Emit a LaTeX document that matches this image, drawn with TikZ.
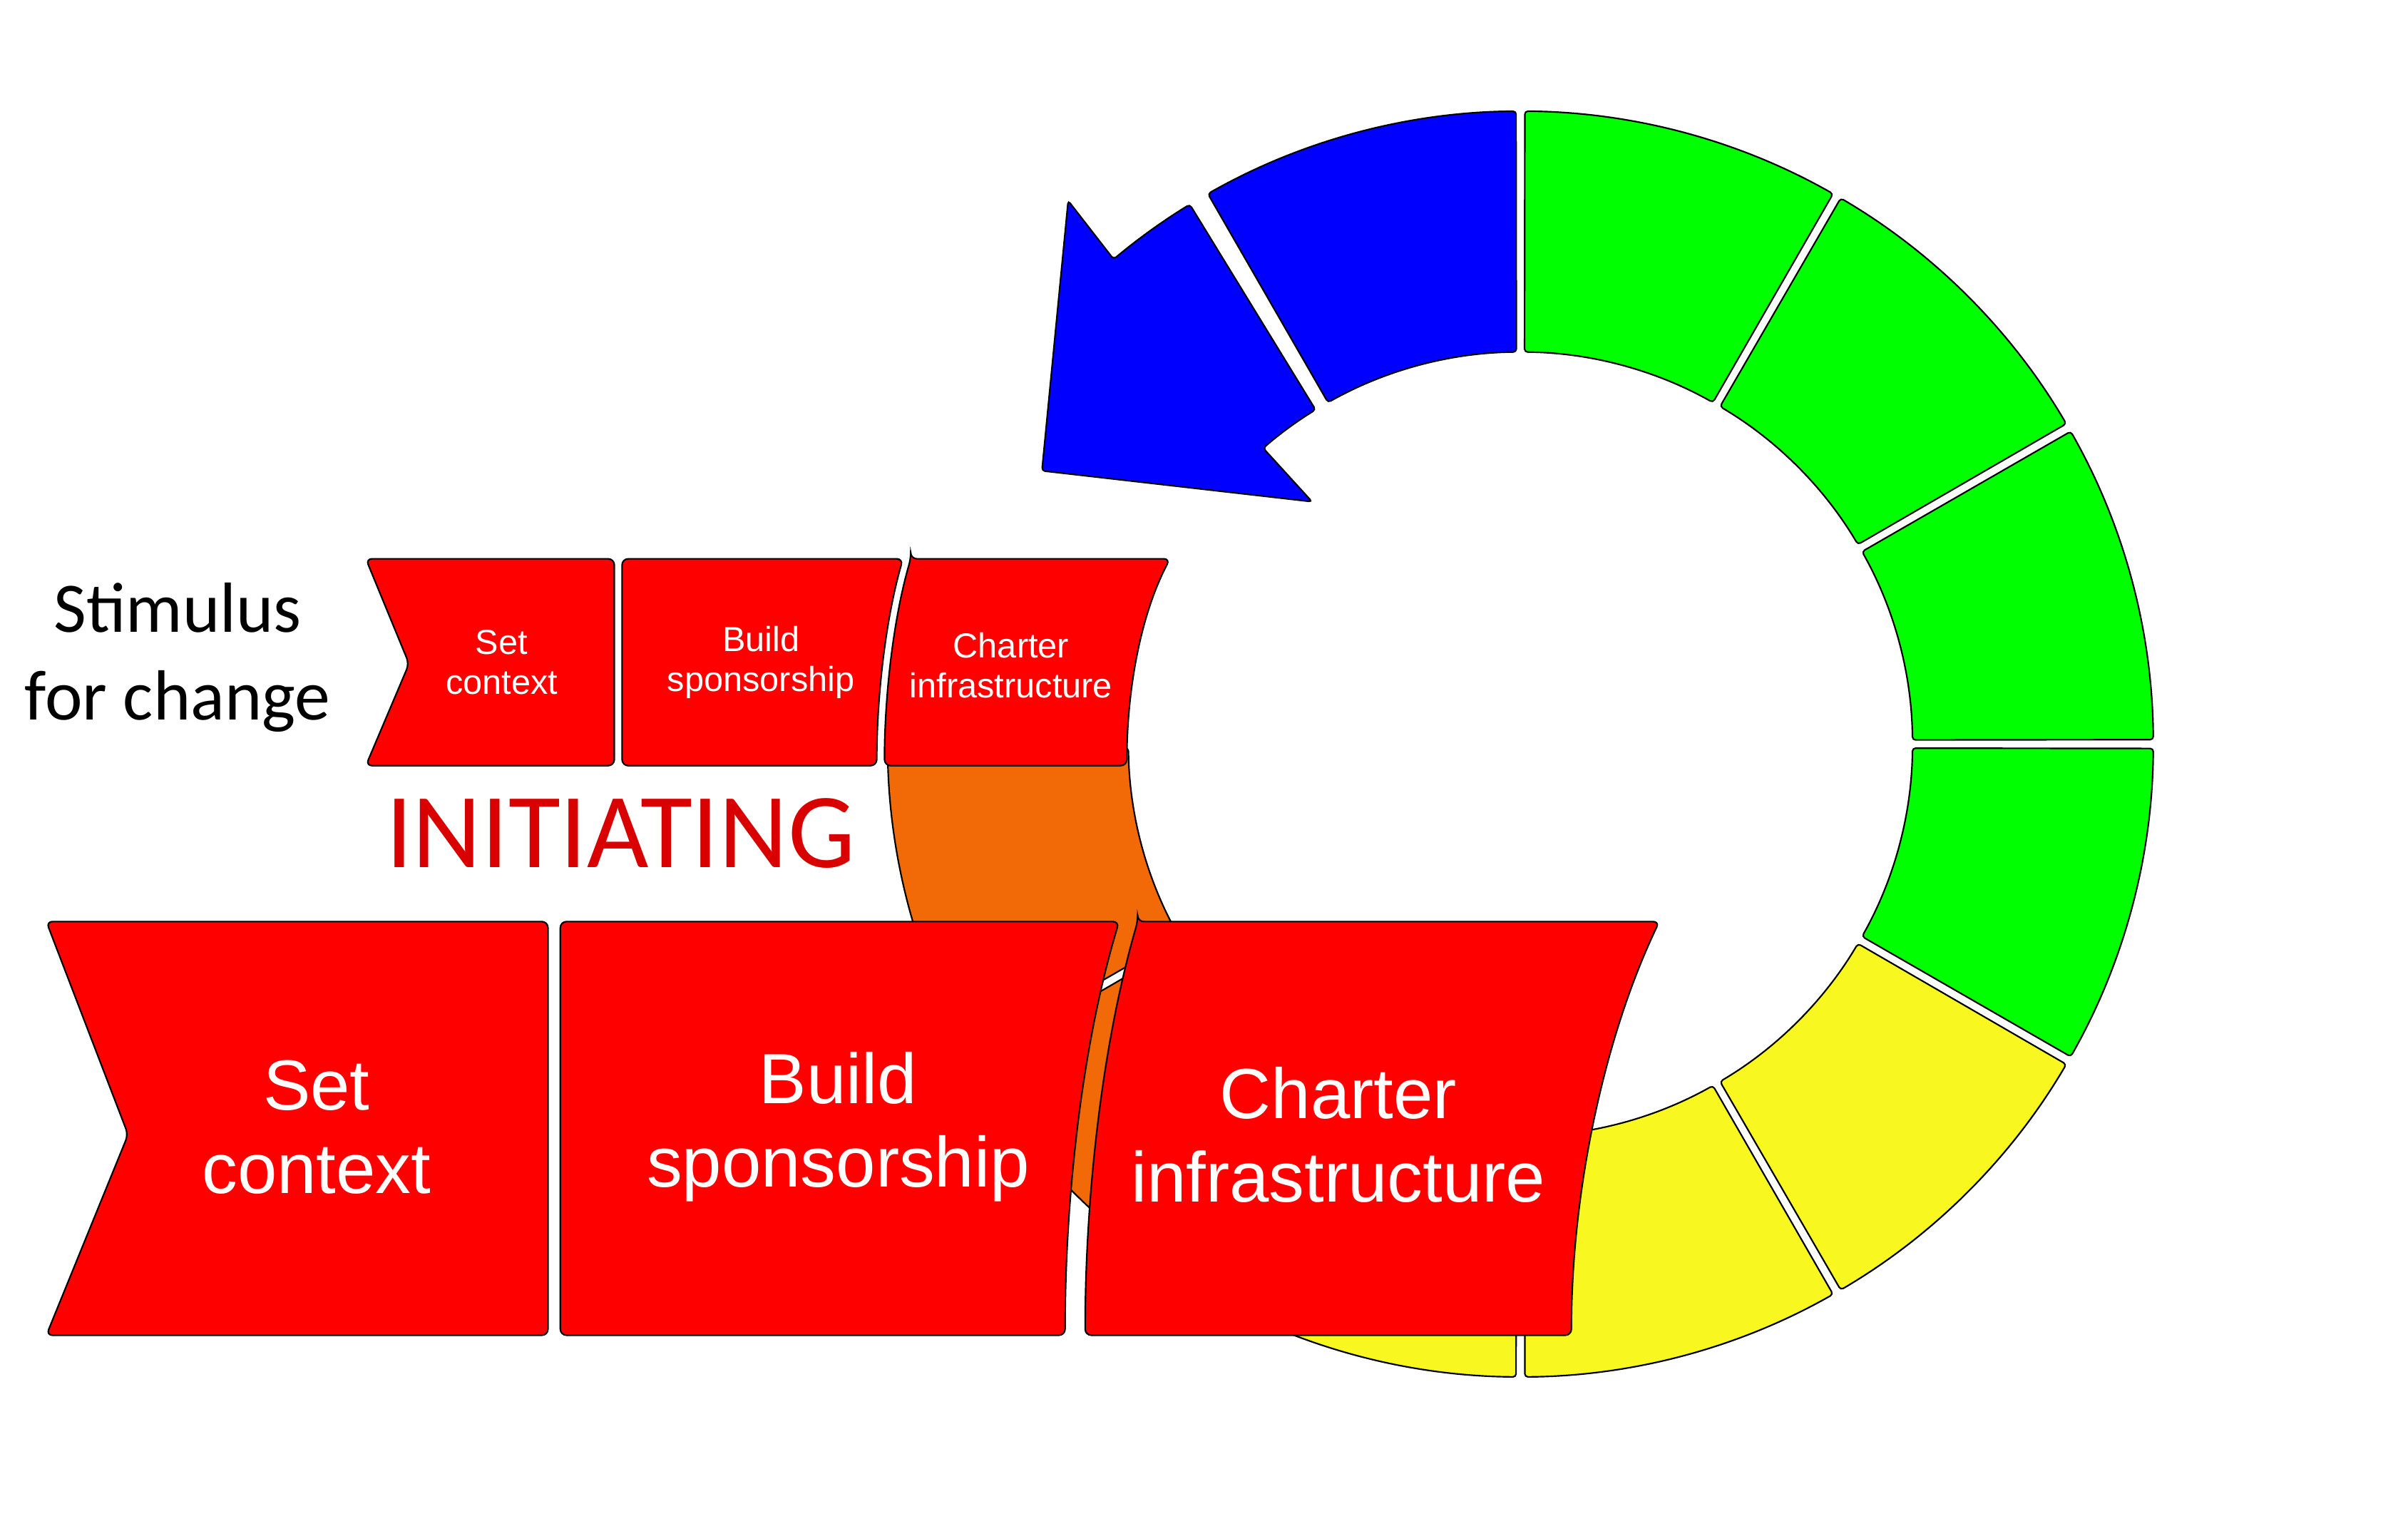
\documentclass[tikz,border=0pt]{standalone}
\usepackage{fontspec}
\usetikzlibrary{calc}
\setmainfont{Liberation Sans}
\newfontfamily\carl{Carlito}
\definecolor{yel}{HTML}{F8F820}
\definecolor{org}{HTML}{F26A07}
\begin{document}
\begin{tikzpicture}[x=1pt,y=-1pt,
 seg/.style={draw=black,line width=1pt,rounded corners=2pt},
 box/.style={draw=black,line width=1pt,fill=red,rounded corners=4pt},
 sm/.style={text=white,align=center,font=\fontsize{22.5}{26}\selectfont},
 bg/.style={text=white,align=center,font=\fontsize{46}{54}\selectfont}]
\useasboundingbox (0,0) rectangle (1560,995);
\coordinate (c) at (985,482);
\def\R{410}\def\r{254}
\foreach \a/\b/\col in {60/90/green,30/60/green,0/30/green,-30/0/green,-60/-30/yel,-90/-60/yel,-120/-90/yel,-150/-120/org,-180/-150/org,90/120/blue}{
 \draw[seg,fill=\col] ($(c)+({cos(\a+0.4)*\R},{-sin(\a+0.4)*\R})$) arc[start angle=-\a-0.4,end angle=-\b+0.4,radius=\R]
  -- ($(c)+({cos(\b-0.6)*\r},{-sin(\b-0.6)*\r})$) arc[start angle=-\b+0.6,end angle=-\a-0.6,radius=\r] -- cycle;}
\draw[seg,fill=blue] ($(c)+({cos(121.5)*\R},{-sin(121.5)*\R})$) arc[start angle=-121.5,end angle=-130,radius=\R]
 -- (692,130) -- (675,305) -- (850,325) -- ($(c)+({cos(131)*\r},{-sin(131)*\r})$)
 arc[start angle=-131,end angle=-121.5,radius=\r] -- cycle;
\draw[box] (237,362) -- (398,362) -- (398,496) -- (237,496) -- (265,430) -- cycle;
\node[sm] (s1) at (325,429) {Set\\context};
\draw[box] (403,362) -- (585,362) .. controls (574,400) and (568,450) .. (568,496) -- (403,496) -- cycle;
\node[sm] (s2) at (493,429) {Build\\sponsorship};
\draw[box] (590,362) -- (758,362) .. controls (738,400) and (730,450) .. (730,496) -- (573,496) .. controls (573,450) and (579,400) .. cycle;
\node[sm] (s3) at (655,431) {Charter\\infrastructure};
\node[font=\carl\fontsize{46}{57}\selectfont,align=center] (st) at (115,426) {Stimulus\\for change};
\node[font=\carl\fontsize{69}{69}\selectfont,text=red!85!black] (ini) at (402,540) {INITIATING};
\draw[box] (30,597) -- (355,597) -- (355,865) -- (30,865) -- (83,735) -- cycle;
\node[bg] (b1) at (205,730) {Set\\context};
\draw[box] (363,597) -- (725,597) .. controls (700,680) and (690,780) .. (690,865) -- (363,865) -- cycle;
\node[bg] (b2) at (543,730) {Build\\sponsorship};
\draw[box] (737,597) -- (1075,597) .. controls (1040,670) and (1018,770) .. (1018,865) -- (703,865) .. controls (703,780) and (713,680) .. cycle;
\node[bg] (b3) at (867,735) {Charter\\infrastructure};
\end{tikzpicture}
\end{document}
